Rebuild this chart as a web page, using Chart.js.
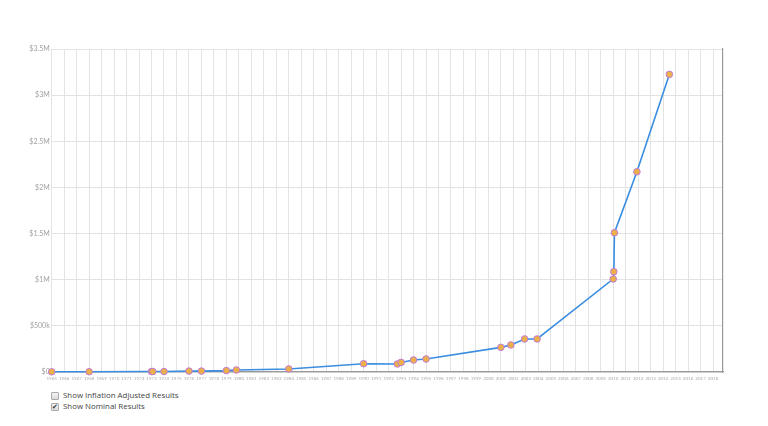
<!DOCTYPE html>
<html><head><meta charset="utf-8">
<script src="https://cdn.jsdelivr.net/npm/chart.js@4/dist/chart.umd.min.js"></script>
<style>
html,body{margin:0;padding:0;background:#fff;width:768px;height:426px;overflow:hidden;font-family:"Open Sans",sans-serif;}
#wrap{position:absolute;left:0;top:0;width:768px;height:385px;}
.opts{position:absolute;left:51px;top:390px;font-size:7.9px;color:#444;line-height:11px;}
.opts label{display:flex;align-items:center;}
.box{display:inline-block;width:6px;height:6px;border:1px solid #aaa;border-radius:1px;background:linear-gradient(#f4f4f4,#dcdcdc);margin-right:4px;position:relative;}
.box.on::after{content:"\2714";position:absolute;left:0px;top:-3px;font-size:7px;color:#333;}
</style></head>
<body>
<div id="wrap"><canvas id="c"></canvas></div>
<div class="opts">
<label><span class="box"></span>Show Inflation Adjusted Results</label>
<label><span class="box on"></span>Show Nominal Results</label>
</div>
<script>
const years = [1965, 1968, 1973, 1973.1, 1974, 1976, 1977, 1979, 1979.8, 1984, 1990, 1992.7, 1993, 1994, 1995, 2001, 2001.8, 2002.9, 2003.9, 2010, 2010.05, 2010.1, 2011.9, 2014.5];
const values = [2000, 3000, 5000, 5000, 5000, 10000, 10000, 15000, 22000, 33000, 90000, 87000, 104000, 130000, 141000, 267000, 293000, 358000, 358000, 1008000, 1087000, 1509000, 2170000, 3225000];
const yTicks = [0, 500000, 1000000, 1500000, 2000000, 2500000, 3000000, 3500000];
const yTickLabels = ["$0", "$500k", "$1M", "$1.5M", "$2M", "$2.5M", "$3M", "$3.5M"];
const xMin = 1965, xMax = 2018.8;

const pts = years.map((x, i) => ({x: x, y: values[i]}));

new Chart(document.getElementById('c'), {
  type: 'line',
  data: { datasets: [{
    data: pts,
    clip: false,
    borderColor: '#3a8de0',
    borderWidth: 1.6,
    tension: 0,
    pointRadius: 3.3,
    pointBackgroundColor: '#ebb048',
    pointBorderColor: '#c07ad8',
    pointBorderWidth: 1,
    fill: false
  }]},
  options: {
    responsive: true,
    maintainAspectRatio: false,
    animation: false,
    layout: { padding: { top: 49, right: 45, left: 0, bottom: 0 } },
    plugins: { legend: { display: false }, tooltip: { enabled: false } },
    scales: {
      x: {
        type: 'linear', min: xMin, max: xMax,
        afterFit: s => { s.height = 13; },
        grid: { color: '#e3e3e3', lineWidth: 1, drawTicks: false },
        border: { color: '#999', width: 1.2 },
        ticks: { stepSize: 1, includeBounds: false, autoSkip: false, maxRotation: 0, padding: 4,
          color: '#aaa', font: { family: 'Lato', size: 4.5 },
          callback: v => String(v) }
      },
      y: {
        min: 0, max: 3500000,
        afterFit: s => { s.width = 51.7; },
        afterBuildTicks: s => { s.ticks = yTicks.map(v => ({value: v})); },
        grid: { color: '#e3e3e3', lineWidth: 1, drawTicks: false },
        border: { display: false },
        ticks: { padding: 2, color: '#a0a0a0', font: { family: 'Lato', size: 7 },
          callback: v => yTickLabels[yTicks.indexOf(v)] }
      },
      y2: {
        position: 'right', min: 0, max: 3500000,
        afterFit: s => { s.width = 0; },
        grid: { display: false },
        border: { color: '#999', width: 1.2 },
        ticks: { display: false }
      }
    }
  }
});
</script>
</body></html>
